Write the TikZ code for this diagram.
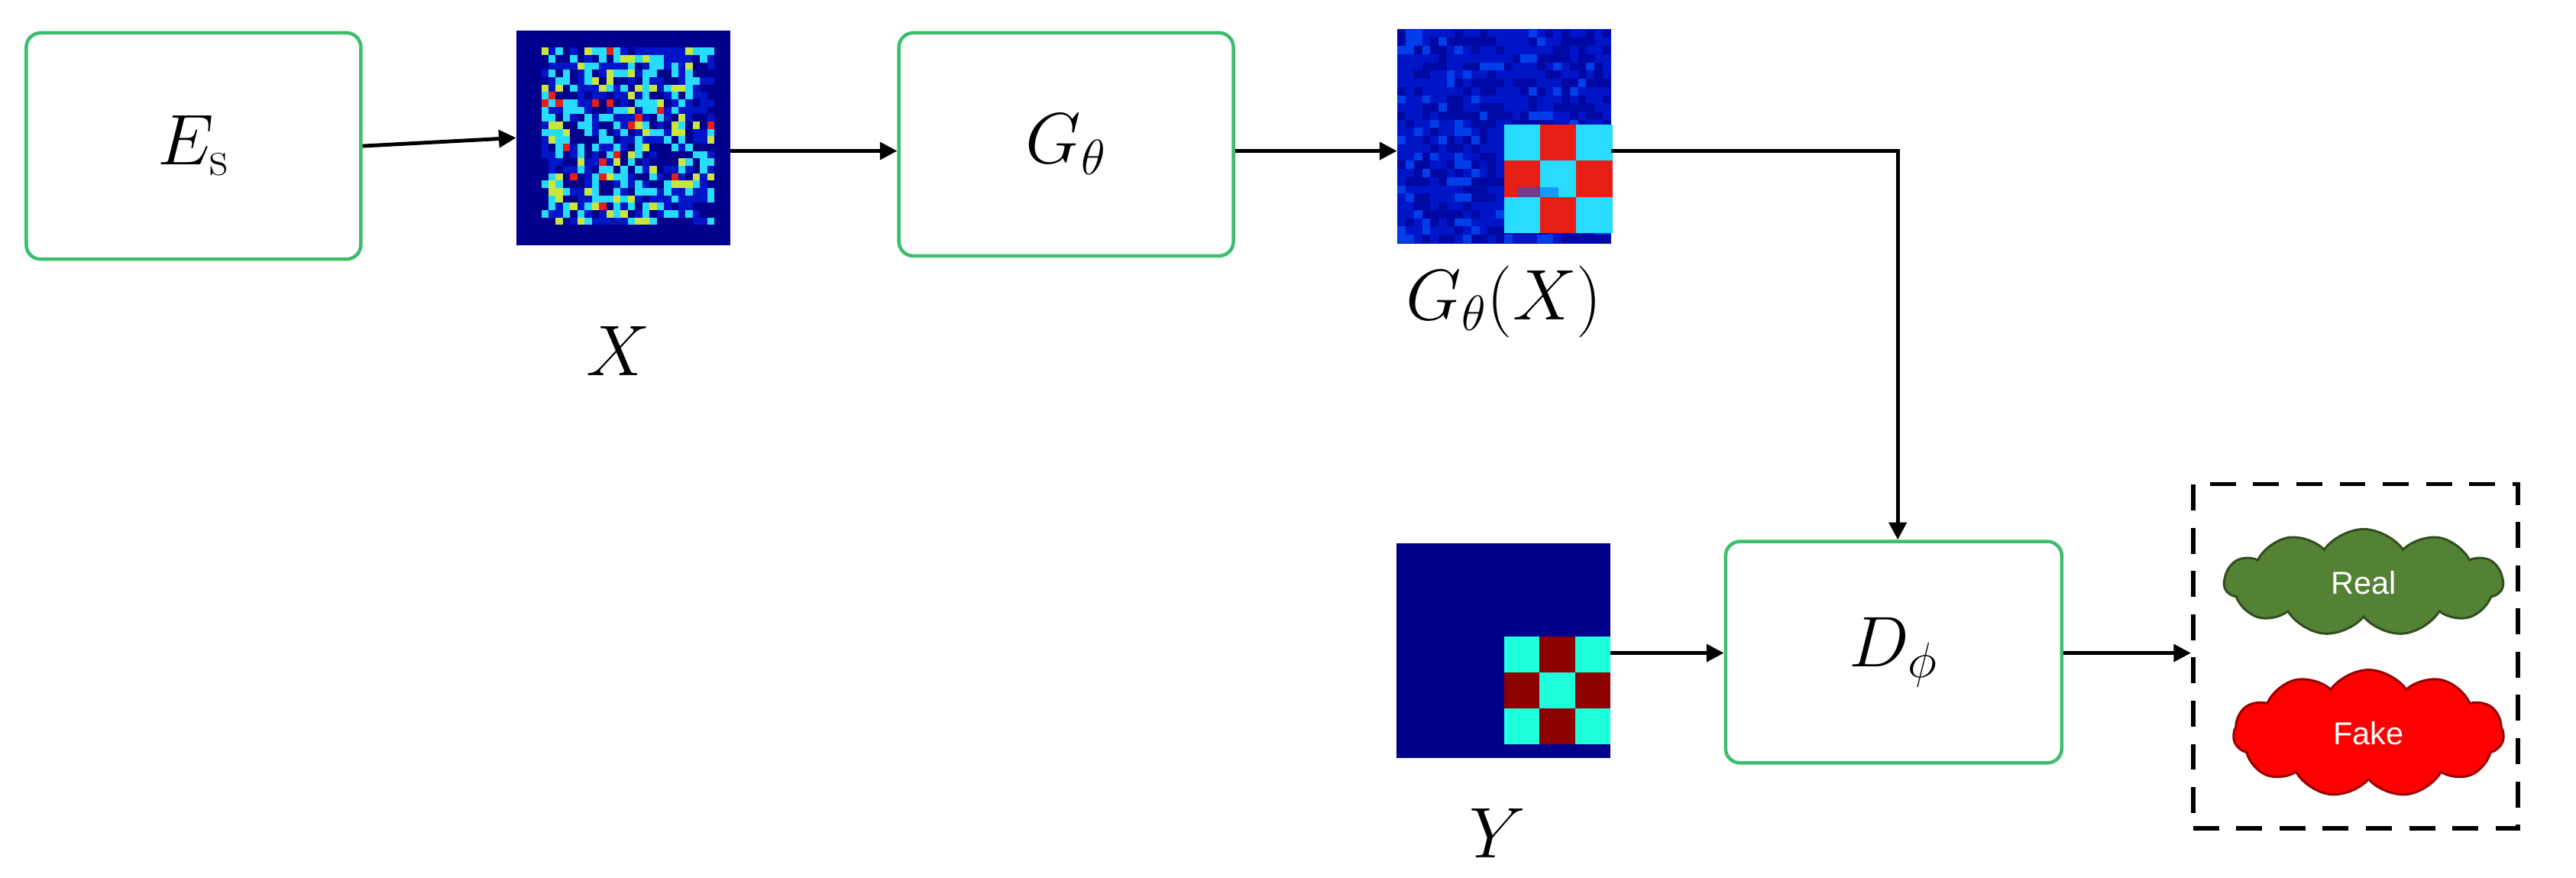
\documentclass[tikz,border=0pt]{standalone}
\usepackage{fontspec}
\newfontfamily\sff{Liberation Sans}
\usetikzlibrary{shapes.symbols,arrows.meta}
\definecolor{gbox}{RGB}{60,190,110}
\definecolor{jdark}{RGB}{0,0,140}
\definecolor{jblue}{RGB}{0,20,200}
\definecolor{jmid}{RGB}{0,90,255}
\definecolor{jcyan}{RGB}{40,220,255}
\definecolor{jyel}{RGB}{200,230,60}
\definecolor{jred}{RGB}{230,30,20}
\definecolor{dred}{RGB}{140,0,0}
\definecolor{ycyan}{RGB}{30,255,220}
\definecolor{realg}{RGB}{84,130,53}
\tikzset{
  blk/.style={draw=gbox,line width=1.2pt,rounded corners=5pt,fill=white,minimum width=204\pgflinewidth},
  arr/.style={-{Triangle[length=6pt,width=6pt]},line width=1.3pt},
  img/.style={draw=none,inner sep=0,minimum width=2.6cm,minimum height=2.6cm},
  lbl/.style={font=\fontsize{25}{30}\selectfont},
  cl/.style={cloud,cloud puffs=11,cloud puff arc=110,aspect=2.6,draw,line width=0.8pt,font=\sff\fontsize{11}{13}\selectfont,text=white,inner sep=1pt}
}
\begin{document}
\begin{tikzpicture}[x=0.02cm,y=-0.02cm]
\useasboundingbox (0,0) rectangle (1570.5,534.7);
% boxes
\node[blk,minimum width=4.08cm,minimum height=2.76cm,lbl] (es) at (118,89) {$E_{\mathrm{s}}$};
\node[blk,minimum width=4.08cm,minimum height=2.72cm,lbl] (g) at (650,88) {$G_{\theta}$};
\node[blk,minimum width=4.1cm,minimum height=2.7cm,lbl] (d) at (1154.5,397.5) {$D_{\phi}$};
% images
\node[img] (x) at (380,84) {};
\node[img] (gx) at (917,83) {};
\node[img] (y) at (916.5,396.5) {};
% X noise
\fill[jdark] (x.south west) rectangle (x.north east);
\pgfmathsetseed{7}
\foreach \i in {0,...,23}{
  \foreach \j in {0,...,23}{
    \pgfmathsetmacro{\r}{rnd}
    \pgfmathtruncatemacro{\k}{\r<0.25?0:(\r<0.55?1:(\r<0.85?2:(\r<0.96?3:4)))}
    \ifcase\k \def\cc{jdark}\or\def\cc{jblue}\or\def\cc{jcyan}\or\def\cc{jyel}\or\def\cc{jred}\fi
    \fill[\cc] ({330+\i*4.4},{29+\j*4.5}) rectangle ++(4.4,4.5);
  }
}
% G(X)
\fill[jblue] (gx.south west) rectangle (gx.north east);
\pgfmathsetseed{3}
\foreach \i in {0,...,25}{
  \foreach \j in {0,...,25}{
    \pgfmathsetmacro{\r}{rnd}
    \pgfmathtruncatemacro{\k}{\r<0.4?0:(\r<0.85?1:2)}
    \ifcase\k \def\cc{jdark}\or\def\cc{jblue}\or\def\cc{jmid}\fi
    \fill[\cc,opacity=0.6] ({852+\i*5},{18+\j*5}) rectangle ++(5,5);
  }
}
\foreach \a/\b/\c in {0/0/jcyan,1/0/jred,2/0/jcyan,0/1/jred,1/1/jcyan,2/1/jred,0/2/jcyan,1/2/jred,2/2/jcyan}
  \fill[\c] ({917+\a*22},{76+\b*22}) rectangle ++(22,22);
\fill[jmid,opacity=0.5] (925,114) rectangle (950,120);
% Y
\fill[jdark] (y.south west) rectangle (y.north east);
\foreach \a/\b/\c in {0/0/ycyan,1/0/dred,2/0/ycyan,0/1/dred,1/1/ycyan,2/1/dred,0/2/ycyan,1/2/dred,2/2/ycyan}
  \fill[\c] ({917+\a*21.6},{388+\b*21.8}) rectangle ++(21.6,21.8);
% labels
\node[lbl] (xl) at (377,214) {$X$};
\node[lbl] (gxl) at (917,184) {$G_{\theta}(X)$};
\node[lbl] (yl) at (913,508) {$Y$};
% output box
\node[draw,dashed,line width=1.5pt,dash pattern=on 9pt off 6pt,minimum width=3.96cm,minimum height=4.2cm] (out) at (1436,400) {};
\node[cl,fill=realg,draw=realg!60!black,minimum width=3.4cm,minimum height=1.3cm] (real) at (1441,355) {Real};
\node[cl,fill=red,draw=red!60!black,minimum width=3.3cm,minimum height=1.55cm] (fake) at (1444,447) {Fake};
% arrows
\draw[arr] (es.east) -- (x.west);
\draw[arr] (x.east |- 0,92) -- (g.west |- 0,92);
\draw[arr] (g.east |- 0,92) -- (gx.west |- 0,92);
\coordinate (c1) at (1157,92);
\draw[arr] (gx.east |- 0,92) -- (c1) -- (c1 |- d.north);
\draw[arr] (y.east |- 0,398) -- (d.west |- 0,398);
\draw[arr] (d.east |- 0,398) -- (out.west |- 0,398);
\end{tikzpicture}
\end{document}
